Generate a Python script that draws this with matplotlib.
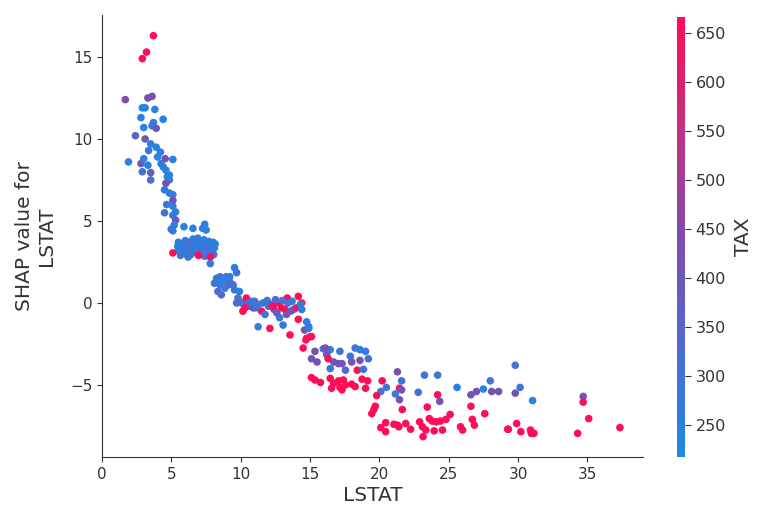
import matplotlib
matplotlib.use("Agg")
import matplotlib.pyplot as plt
from matplotlib.colors import LinearSegmentedColormap

# LSTAT feature value, SHAP value for LSTAT, TAX (colour)
lstat = [
    3.7, 3.2, 2.9, 1.67, 3.3, 3.6, 2.9, 3.1, 3.8, 2.8,
    4.4, 3.7, 3.0, 3.6, 3.9, 2.4, 3.1, 3.5, 3.9, 3.35,
    4.2, 1.9, 2.8, 3.0, 4.0, 4.25, 4.55, 5.1, 3.3, 4.4,
    4.6, 2.9, 3.5, 4.85, 3.5, 4.7, 4.85, 4.6, 4.5, 4.85,
    5.1, 5.1, 4.65, 5.1, 5.3, 4.5, 5.1, 5.3, 5.2, 4.98,
    5.1, 5.9, 6.55, 7.4, 7.25, 7.5,
    # dense block around 5.5-8
    5.5, 5.6, 5.7, 5.8, 5.9, 6.0, 6.05, 6.15, 6.25, 6.3,
    6.4, 6.45, 6.55, 6.6, 6.7, 6.75, 6.85, 6.9, 7.0, 7.05,
    7.15, 7.2, 7.3, 7.35, 7.45, 7.5, 7.6, 7.7, 7.75, 7.85,
    7.95, 8.0, 8.1, 5.65, 6.2, 5.5, 6.9, 7.4, 8.05, 5.45,
    5.95, 6.35, 6.8, 7.25, 7.65, 8.15,
    5.1, 6.95, 7.8, 7.8,
    # 8-10
    9.55, 9.7, 8.25, 8.5, 8.95, 9.2, 8.1, 8.5, 9.45, 8.85,
    9.55, 8.35, 9.9, 8.6, 9.8, 9.1, 9.2, 8.7,
    # 10-15 around zero
    10.05, 9.7, 10.4, 10.55, 10.65, 10.3, 10.15, 11.25, 11.6, 12.0,
    12.2, 12.7, 12.95, 13.35, 13.4, 13.2, 13.8, 14.15, 14.4, 14.0,
    14.4, 11.5, 11.75, 11.25, 12.1, 12.8, 13.05, 14.15, 13.55, 14.75,
    14.6, 14.9, 14.75, 15.0, 14.5, 10.9, 11.0, 12.4, 12.5, 11.9,
    12.6, 13.0, 13.7, 14.3, 13.3, 14.9, 15.1, 14.7, 11.1, 10.8,
    12.3, 13.6,
    # 15-19.5
    15.35, 15.1, 15.5, 15.95, 16.45, 16.2, 17.15, 16.7, 17.05, 17.3,
    16.45, 17.9, 18.25, 18.6, 19.0, 18.0, 18.6, 18.4, 18.85, 16.3,
    17.55, 16.1, 19.2,
    15.1, 15.35, 15.75, 16.45, 16.7, 17.05, 17.4, 17.55, 18.0, 16.55,
    17.15, 17.3, 18.25, 19.0, 18.75, 19.15,
    # 19.5-29
    21.3, 20.2, 21.6, 20.5, 20.1, 21.45, 21.6, 21.15, 19.8, 21.45,
    23.25, 24.2, 22.8, 24.2, 24.35, 25.6, 26.6, 27.0, 27.5, 28.0,
    28.1, 28.6, 19.7,
    19.6, 19.45, 21.65, 23.45, 25.1, 26.6, 27.6, 26.7, 26.85, 20.45,
    21.05, 21.3, 21.9, 22.9, 23.6, 23.8, 24.1, 24.4, 24.8, 20.1,
    20.45, 21.4, 22.25, 23.1, 23.35, 23.95, 24.55, 25.85, 26.0, 23.15,
    29.25,
    # > 29
    29.8, 30.15, 29.8, 31.05, 34.7, 34.7, 35.1, 34.3, 37.35, 29.9,
    29.3, 30.2, 30.9, 30.95, 31.15,
]

shap_lstat = [
    16.3, 15.3, 14.9, 12.4, 12.5, 12.6, 11.9, 11.9, 11.8, 11.3,
    11.2, 11.0, 10.7, 10.8, 10.65, 10.2, 10.0, 9.7, 9.5, 9.3,
    9.2, 8.6, 8.5, 8.8, 8.9, 8.5, 8.8, 8.75, 8.4, 8.3,
    8.1, 8.0, 7.95, 7.8, 7.5, 7.7, 7.5, 7.3, 6.9, 6.7,
    6.6, 6.25, 6.0, 5.9, 5.55, 5.5, 5.35, 5.05, 4.75, 4.5,
    4.4, 4.65, 4.55, 4.8, 4.55, 4.45,
    3.7, 3.4, 3.1, 3.6, 3.3, 3.8, 3.0, 3.5, 3.2, 3.7,
    2.95, 3.45, 3.9, 3.1, 3.6, 3.3, 3.8, 3.05, 3.5, 3.2,
    3.7, 2.95, 3.4, 3.85, 3.1, 3.6, 3.3, 3.75, 3.0, 3.5,
    3.2, 3.7, 3.35, 2.9, 2.8, 3.2, 3.95, 2.85, 2.95, 3.45,
    3.55, 3.35, 3.15, 3.65, 3.45, 3.6,
    3.05, 2.9, 2.8, 2.4,
    2.15, 1.85, 1.5, 1.6, 1.6, 1.3, 1.2, 1.1, 1.1, 0.9,
    0.8, 0.7, 0.7, 0.5, 0.3, 1.1, 1.6, 1.35,
    0.0, 0.0, 0.3, 0.0, -0.2, -0.3, -0.5, -0.1, 0.0, -0.2,
    -0.1, 0.0, -0.3, 0.3, 0.0, -0.4, -0.4, 0.4, 0.0, -0.3,
    -0.4, -0.5, -0.7, -1.45, -1.55, -0.9, -1.35, -1.0, -1.95, -1.15,
    -1.65, -1.55, -2.15, -2.05, -2.75, -0.3, 0.1, -0.4, 0.2, 0.15,
    -0.6, 0.15, 0.1, -0.1, -0.7, -1.45, -2.05, -2.25, -0.3, 0.1,
    -0.2, -0.5,
    -2.95, -3.4, -3.6, -2.8, -2.85, -3.15, -2.95, -3.6, -3.7, -3.7,
    -4.0, -3.25, -2.75, -2.85, -2.95, -3.6, -3.5, -4.1, -4.05, -3.4,
    -4.1, -2.75, -3.4,
    -4.55, -4.7, -4.85, -4.6, -4.9, -4.75, -4.7, -5.0, -4.95, -5.2,
    -5.15, -5.3, -5.1, -5.2, -4.65, -4.75,
    -4.2, -4.75, -4.75, -5.15, -5.4, -5.2, -5.3, -5.55, -5.65, -5.9,
    -4.4, -4.4, -5.45, -5.6, -6.0, -5.15, -5.6, -5.4, -5.25, -4.75,
    -5.4, -5.4, -6.3,
    -6.5, -6.75, -6.5, -6.35, -6.8, -6.3, -6.75, -7.1, -7.45, -7.3,
    -7.4, -7.45, -7.35, -7.25, -7.05, -7.2, -7.25, -7.2, -7.1, -7.6,
    -7.85, -7.55, -7.7, -7.55, -7.75, -7.8, -7.75, -7.55, -7.75, -8.15,
    -7.7,
    -3.8, -5.15, -5.5, -5.95, -5.7, -6.05, -7.05, -7.95, -7.6, -7.35,
    -7.7, -7.85, -7.75, -7.95, -7.95,
]

tax = [
    666, 666, 666, 430, 430, 430, 240, 240, 240, 240,
    240, 250, 240, 300, 400, 340, 400, 250, 250, 280,
    250, 250, 400, 250, 250, 250, 420, 250, 250, 250,
    250, 300, 380, 240, 330, 250, 260, 420, 260, 260,
    260, 420, 280, 260, 260, 300, 260, 420, 250, 260,
    280, 240, 240, 250, 250, 250,
    280, 250, 300, 260, 330, 250, 280, 300, 250, 340,
    260, 250, 250, 320, 260, 250, 300, 280, 250, 350,
    260, 250, 300, 250, 270, 250, 330, 250, 260, 250,
    300, 250, 260, 280, 300, 250, 260, 300, 330, 250,
    280, 300, 260, 250, 280, 250,
    666, 666, 666, 280,
    260, 270, 260, 300, 250, 280, 300, 280, 330, 260,
    280, 330, 260, 340, 300, 330, 260, 250,
    280, 330, 666, 300, 330, 666, 666, 280, 300, 330,
    430, 666, 666, 666, 300, 666, 300, 666, 666, 666,
    260, 666, 300, 260, 666, 280, 280, 666, 666, 250,
    420, 300, 666, 420, 666, 400, 330, 420, 330, 280,
    400, 300, 260, 260, 420, 260, 666, 666, 300, 280,
    666, 420,
    420, 420, 420, 280, 280, 400, 280, 420, 420, 420,
    280, 280, 280, 260, 280, 420, 420, 666, 300, 666,
    350, 420, 300,
    666, 666, 666, 666, 666, 666, 666, 666, 666, 666,
    666, 666, 666, 666, 666, 666,
    420, 666, 280, 300, 300, 666, 420, 300, 666, 420,
    300, 300, 300, 666, 420, 240, 420, 420, 240, 300,
    420, 420, 666,
    666, 666, 666, 666, 666, 666, 666, 666, 666, 666,
    666, 666, 666, 666, 666, 666, 666, 666, 666, 666,
    666, 666, 666, 666, 666, 666, 666, 666, 666, 666,
    666,
    300, 300, 420, 240, 420, 666, 666, 666, 666, 666,
    666, 666, 666, 666, 666,
]

tax_min, tax_max = 217, 666

red_blue = LinearSegmentedColormap.from_list(
    "red_blue", ["#1E88E5", "#4f6bd0", "#7e4dab", "#c2307f", "#FF0D57"])

fig = plt.figure(figsize=(7.68, 5.23), dpi=100)
ax = fig.add_axes([0.133, 0.126, 0.704, 0.845])
cax = fig.add_axes([0.8815, 0.126, 0.0104, 0.841])

sc = ax.scatter(lstat, shap_lstat, c=tax, cmap=red_blue, vmin=tax_min, vmax=tax_max,
                s=30, linewidth=0, alpha=1)

ax.set_xlim(0, 39)
ax.set_ylim(-9.4, 17.55)
ax.set_xticks([0, 5, 10, 15, 20, 25, 30, 35])
ax.set_yticks([-5, 0, 5, 10, 15])

for side in ["top", "right"]:
    ax.spines[side].set_visible(False)
ax.spines["left"].set_color("#333333")
ax.spines["bottom"].set_color("#333333")
ax.tick_params(labelsize=11, colors="#333333", labelcolor="#333333")

ax.set_xlabel("LSTAT", fontsize=14.5, color="#333333", labelpad=3)
ax.set_ylabel("SHAP value for\nLSTAT", fontsize=14.5, color="#333333", labelpad=10)

cb = fig.colorbar(sc, cax=cax)
cb.outline.set_visible(False)
cb.set_ticks([250, 300, 350, 400, 450, 500, 550, 600, 650])
cb.ax.tick_params(labelsize=11.5, length=4, colors="#333333")
cb.set_label("TAX", size=14.5, color="#333333", labelpad=6)

fig.savefig("out.png", dpi=100)
